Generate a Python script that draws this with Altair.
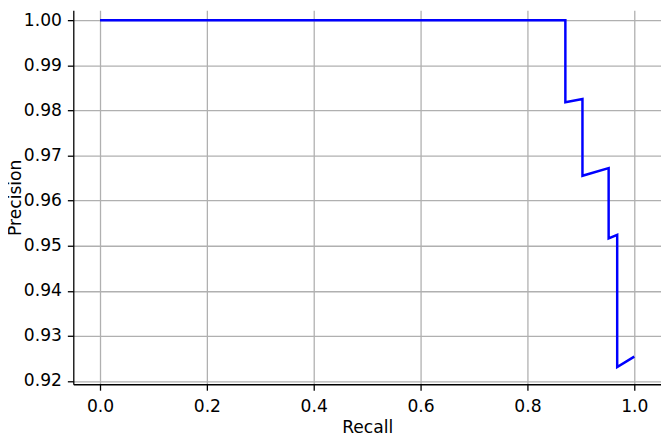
import altair as alt
import pandas as pd

# ─── Data ─────────────────────────────────────────────────────────────────────

recall = [0.0, 0.871, 0.871, 0.903, 0.903, 0.952, 0.952, 0.968, 0.968, 1.0]
precision = [1.0, 1.0, 0.9818, 0.9825, 0.9655, 0.9672, 0.9516, 0.9524, 0.9231, 0.9254]

x_ticks = [0.0, 0.2, 0.4, 0.6, 0.8, 1.0]
y_ticks = [0.92, 0.93, 0.94, 0.95, 0.96, 0.97, 0.98, 0.99, 1.00]

df = pd.DataFrame({"Recall": recall, "Precision": precision, "idx": range(len(recall))})

FONT = "DejaVu Sans"

chart = (
    alt.Chart(df)
    .mark_line(color="#0000ff", strokeWidth=2.5, clip=True)
    .encode(
        x=alt.X(
            "Recall:Q",
            scale=alt.Scale(domain=[-0.05, 1.05], nice=False, zero=False),
            axis=alt.Axis(values=x_ticks, format=".1f", labelPadding=8, titlePadding=3),
        ),
        y=alt.Y(
            "Precision:Q",
            scale=alt.Scale(domain=[0.91928, 1.00219], nice=False, zero=False),
            axis=alt.Axis(values=y_ticks, format=".2f", labelPadding=6,
                          titleX=-53, titleY=189, titleAngle=270,
                          titleBaseline="alphabetic", titleAlign="center"),
        ),
        order=alt.Order("idx:Q"),
    )
    .properties(
        width=594,
        height=378,
        autosize=alt.AutoSizeParams(type="none"),
        padding={"left": 66, "top": 0, "right": 0, "bottom": 50},
    )
    .configure_view(strokeWidth=0, fill="#ffffff")
    .configure_axis(
        labelFont=FONT, titleFont=FONT,
        labelFontSize=17.3, titleFontSize=17.3,
        labelColor="#000000", titleColor="#000000",
        titleFontWeight="normal",
        domainColor="#000000", domainWidth=1.3,
        tickColor="#000000", tickWidth=1.3, tickSize=6,
        grid=True, gridColor="#b0b0b0", gridWidth=1.3,
        labelFlush=False, labelOverlap=False,
    )
)

chart.save("out.html", embed_options={"renderer": "svg", "actions": False})
